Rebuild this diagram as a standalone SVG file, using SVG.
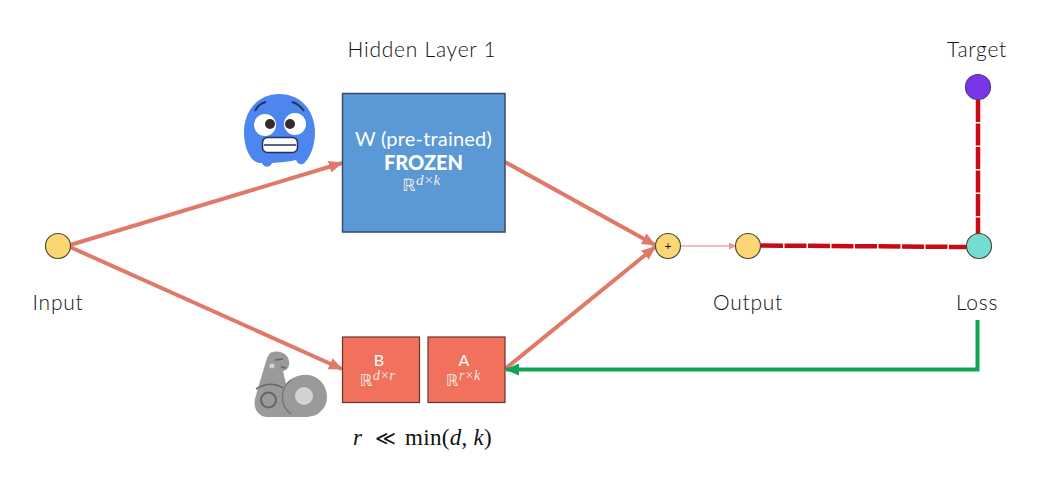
<svg xmlns="http://www.w3.org/2000/svg" width="1051" height="482" viewBox="0 0 1051 482">
<style>
text{font-family:"Lato","Liberation Sans",sans-serif;fill:#111}
.lbl{font-size:21px;text-anchor:middle;letter-spacing:.75px;font-weight:300}
.n{stroke:#4a4a3a;stroke-width:1.2}
.y{fill:#fdd674}
.in{fill:#fff;text-anchor:middle}
.m{font-family:"DejaVu Sans",sans-serif;fill:#f4ece6}
.i{font-family:"Liberation Serif",serif;font-style:italic;fill:#f4ece6}
.e{stroke:#e07a68;stroke-width:4;fill:none}
.r{stroke:#c90a12;stroke-width:4.500;fill:none;stroke-dasharray:22 1.500}
</style>
<defs>
<marker id="a" markerUnits="userSpaceOnUse" markerWidth="14" markerHeight="12" refX="13" refY="6" orient="auto"><path d="M0 0L14 6L0 12z" fill="#e07a68"/></marker>
<marker id="g" markerUnits="userSpaceOnUse" markerWidth="14" markerHeight="12" refX="13" refY="6" orient="auto"><path d="M0 0L14 6L0 12z" fill="#0ea552"/></marker>
<marker id="p" markerUnits="userSpaceOnUse" markerWidth="8" markerHeight="8" refX="7" refY="4" orient="auto"><path d="M0 .5L8 4L0 7.500z" fill="#e59a92"/></marker>
</defs>
<rect width="1051" height="482" fill="#fff"/>
<g id="connectors">
<path class="e" marker-end="url(#a)" d="M70 245L342 163"/>
<path class="e" marker-end="url(#a)" d="M70 247L342 369"/>
<path class="e" marker-end="url(#a)" d="M505 162L655 245"/>
<path class="e" marker-end="url(#a)" d="M505 369L655 247"/>
<path d="M681 246H736" stroke="#ecaaa4" stroke-width="1.400" marker-end="url(#p)"/>
<path class="r" d="M761 245.500L966 247"/>
<path class="r" d="M978 100V234"/>
<path d="M977.500 320V369.500H506" fill="none" stroke="#0ea552" stroke-width="4" marker-end="url(#g)"/>
</g>
<g id="hidden-label"><text class="lbl" x="422" y="57">Hidden Layer 1</text></g>
<g id="frozen-emoji">
<path d="M279 94C303 94 315 113 315 133C315 147 309 158 306 161C303 166 298 165 296 160C288 162 280 162 272 163C270 168 264 168 262 163C256 163 252 160 250 156C246 150 244 141 244 132C244 111 258 94 279 94z" fill="#4c86ee"/>
<path d="M255 111Q259 103 266 102M292 102Q299 104 304 111" fill="none" stroke="#27305e" stroke-width="2"/>
<circle cx="265" cy="125" r="11" fill="#fff"/><circle cx="295" cy="124" r="11" fill="#fff"/>
<circle cx="270" cy="124" r="5" fill="#3a2a2a"/><circle cx="290" cy="124" r="5" fill="#3a2a2a"/>
<rect x="262.500" y="137.500" width="35" height="15" rx="5" fill="#fff" stroke="#27305e" stroke-width="1.500"/>
<path d="M264 145H296" stroke="#27305e" stroke-width="1.500"/>
</g>
<g id="frozen-layer">
<rect x="342.500" y="93.500" width="162.500" height="138.500" fill="#5a99d6" stroke="#3b4a66" stroke-width="1.500"/>
<text class="in" x="423.500" y="146" font-size="20" letter-spacing=".2">W (pre-trained)</text>
<text class="in" x="423.500" y="170" font-size="20" font-weight="900">FROZEN</text>
<text class="m" x="402" y="191" font-size="17">ℝ</text>
<text class="i" x="416" y="185" font-size="15">d×k</text>
</g>
<g id="tool-icon">
<path d="M270 353C278 349 288 353 289 361C290 367 287 370 283 371L286 384C292 376 305 372 315 377C329 384 330 403 322 410C318 415 312 417 304 417H268C258 417 253 408 255 399C258 388 264 368 267 358z" fill="#9a9a9a"/>
<path d="M291 414A21 21 0 0 1 291 380" fill="none" stroke="#777" stroke-width="1.500"/>
<circle cx="304" cy="396" r="9" fill="#d3d3d3"/>
<circle cx="268.500" cy="400" r="7.500" fill="none" stroke="#666" stroke-width="2"/>
<path d="M256 389Q270 380 283 388" fill="none" stroke="#666" stroke-width="1.500"/>
<path d="M275 360L283 359M281 367L286 368" stroke="#666" stroke-width="1.500"/>
<circle cx="272" cy="366" r="2.500" fill="#d3d3d3"/>
</g>
<g id="matrix-b">
<rect x="342.500" y="337" width="77" height="65.500" fill="#f0725c" stroke="#6b332a" stroke-width="1.200"/>
<text class="in" x="379" y="366" font-size="16">B</text>
<text class="m" x="360" y="386" font-size="16">ℝ</text>
<text class="i" x="373" y="380" font-size="14">d×r</text>
</g>
<g id="matrix-a">
<rect x="428" y="337" width="77" height="65.500" fill="#f0725c" stroke="#6b332a" stroke-width="1.200"/>
<text class="in" x="464" y="366" font-size="16">A</text>
<text class="m" x="446" y="386" font-size="16">ℝ</text>
<text class="i" x="459" y="380" font-size="14">r×k</text>
</g>
<g id="rank-note">
<text x="353" y="445" font-size="23" font-style="italic" style="font-family:'Liberation Serif',serif">r</text>
<text x="375" y="445" font-size="20" style="font-family:'DejaVu Sans',sans-serif">≪</text>
<text x="405" y="445" font-size="23" letter-spacing=".3" style="font-family:'Liberation Serif',serif">min(<tspan font-style="italic">d</tspan>, <tspan font-style="italic">k</tspan>)</text>
</g>
<g id="input"><circle class="n y" cx="58" cy="246" r="12.500"/><text class="lbl" x="58" y="310">Input</text></g>
<g id="sum"><circle class="n y" cx="668" cy="246" r="12.500"/><text x="668" y="250" font-size="12" text-anchor="middle">+</text></g>
<g id="output"><circle class="n y" cx="748" cy="246" r="12.500"/><text class="lbl" x="748" y="310">Output</text></g>
<g id="loss"><circle class="n" cx="979" cy="246" r="12.500" fill="#74dcd0"/><text class="lbl" x="977" y="310">Loss</text></g>
<g id="target"><circle cx="978" cy="87" r="12.500" fill="#7b35e8" stroke="#4a3a8a" stroke-width="1.200"/><text class="lbl" x="977" y="57">Target</text></g>
</svg>
